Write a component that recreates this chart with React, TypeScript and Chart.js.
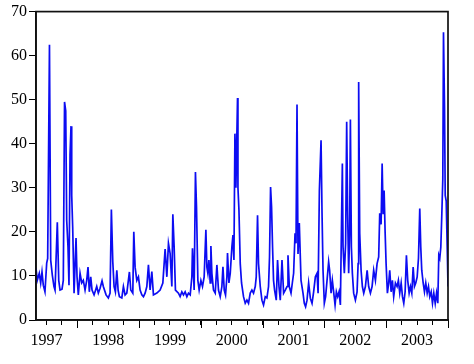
import React, { useEffect, useRef } from "react";
import { Chart, registerables } from "chart.js";

Chart.register(...registerables);

// Decimal-year dates of the observations
const dates = [
  1997.331, 1997.352, 1997.384, 1997.407, 1997.428, 1997.449, 1997.476, 1997.504, 1997.52, 1997.549,
  1997.569, 1997.595, 1997.622, 1997.639, 1997.676, 1997.699, 1997.72, 1997.752, 1997.773, 1997.793,
  1997.812, 1997.828, 1997.849, 1997.865, 1997.882, 1997.898, 1997.909, 1997.925, 1997.947, 1997.968,
  1997.979, 1997.995, 1998.016, 1998.044, 1998.071, 1998.097, 1998.125, 1998.152, 1998.173, 1998.194,
  1998.217, 1998.238, 1998.271, 1998.314, 1998.34, 1998.368, 1998.4, 1998.421, 1998.465, 1998.502,
  1998.53, 1998.551, 1998.574, 1998.595, 1998.616, 1998.639, 1998.66, 1998.681, 1998.72, 1998.746,
  1998.773, 1998.801, 1998.843, 1998.865, 1998.898, 1998.914, 1998.935, 1998.963, 1998.989, 1999.016,
  1999.044, 1999.07, 1999.097, 1999.125, 1999.151, 1999.178, 1999.206, 1999.232, 1999.287, 1999.34,
  1999.384, 1999.421, 1999.449, 1999.475, 1999.502, 1999.53, 1999.546, 1999.567, 1999.588, 1999.637,
  1999.664, 1999.692, 1999.718, 1999.745, 1999.773, 1999.799, 1999.827, 1999.854, 1999.864, 1999.891,
  1999.912, 1999.929, 1999.951, 1999.972, 2000.0, 2000.026, 2000.053, 2000.081, 2000.097, 2000.113,
  2000.13, 2000.151, 2000.162, 2000.178, 2000.204, 2000.232, 2000.259, 2000.285, 2000.313, 2000.34,
  2000.357, 2000.378, 2000.399, 2000.421, 2000.431, 2000.454, 2000.475, 2000.502, 2000.519, 2000.535,
  2000.551, 2000.567, 2000.593, 2000.6, 2000.616, 2000.637, 2000.658, 2000.69, 2000.718, 2000.745,
  2000.771, 2000.799, 2000.826, 2000.852, 2000.88, 2000.896, 2000.917, 2000.933, 2000.961, 2000.988,
  2001.014, 2001.042, 2001.069, 2001.095, 2001.111, 2001.128, 2001.144, 2001.16, 2001.176, 2001.193,
  2001.22, 2001.241, 2001.264, 2001.285, 2001.313, 2001.339, 2001.366, 2001.394, 2001.41, 2001.431,
  2001.459, 2001.48, 2001.501, 2001.524, 2001.54, 2001.556, 2001.572, 2001.593, 2001.621, 2001.653,
  2001.674, 2001.695, 2001.718, 2001.744, 2001.772, 2001.799, 2001.825, 2001.853, 2001.88, 2001.897,
  2001.918, 2001.945, 2001.961, 2001.977, 2001.998, 2002.019, 2002.042, 2002.068, 2002.084, 2002.107,
  2002.128, 2002.149, 2002.172, 2002.193, 2002.214, 2002.236, 2002.258, 2002.29, 2002.301, 2002.322,
  2002.343, 2002.36, 2002.376, 2002.392, 2002.408, 2002.42, 2002.436, 2002.452, 2002.473, 2002.501,
  2002.528, 2002.545, 2002.554, 2002.571, 2002.593, 2002.614, 2002.636, 2002.663, 2002.691, 2002.716,
  2002.744, 2002.771, 2002.797, 2002.825, 2002.852, 2002.878, 2002.895, 2002.917, 2002.934, 2002.95,
  2002.966, 2002.982, 2002.998, 2003.019, 2003.04, 2003.057, 2003.079, 2003.1, 2003.121, 2003.149,
  2003.176, 2003.197, 2003.219, 2003.242, 2003.263, 2003.284, 2003.306, 2003.327, 2003.348, 2003.371,
  2003.392, 2003.414, 2003.436, 2003.457, 2003.478, 2003.501, 2003.522, 2003.543, 2003.559, 2003.575,
  2003.598, 2003.619, 2003.64, 2003.663, 2003.684, 2003.705, 2003.728, 2003.749, 2003.77, 2003.793,
  2003.814, 2003.835, 2003.851, 2003.867, 2003.884, 2003.9, 2003.916, 2003.927, 2003.944, 2003.955,
  2003.971, 2003.987, 2004.0,
];

// Series values
const values = [
  11.8, 9, 10.6, 8.4, 10.9, 7.9, 6.4, 12.9, 14, 62.5,
  13.6, 10.2, 7.6, 6.8, 22.2, 9, 6.8, 7, 9, 49.5,
  47.5, 22.6, 16.6, 7.9, 37.5, 44, 28.3, 21, 6.1, 14.3,
  18.6, 9.8, 5.7, 10.6, 8.4, 9, 6.8, 9, 12, 6.4,
  9.8, 6.8, 5.7, 7.6, 6.1, 7.2, 8.9, 7.6, 5.7, 5,
  6.1, 25.1, 13.2, 7.6, 6.4, 11.3, 6.8, 5.3, 5, 7.6,
  5.7, 6.1, 10.9, 6.8, 6.1, 20, 12, 9, 9.8, 6.8,
  5.7, 5.3, 6.1, 7.6, 12.5, 6.8, 11, 5.7, 6.1, 6.8,
  8.4, 16.1, 9.8, 17.4, 15.1, 7.6, 24, 16.6, 6.8, 6.1,
  5.3, 6.4, 5.7, 6.4, 5.3, 6.1, 5.7, 9.8, 16.3, 6.8,
  33.6, 25.7, 9, 6.8, 9, 7.6, 9.8, 20.5, 12, 10.6,
  13.6, 8.4, 16.8, 10.6, 6.8, 6.1, 12.5, 6.8, 5.3, 7.6,
  12.1, 6.8, 5.7, 9.8, 15.2, 8.4, 10.6, 16.6, 19.3, 13.6,
  42.3, 30, 50.4, 30, 25, 12.8, 8.4, 5.3, 3.8, 4.5,
  3.8, 6.1, 6.8, 6.1, 7.6, 9.8, 23.8, 12.8, 7.6, 4.5,
  3.4, 5.3, 5, 7.6, 14.3, 30.2, 25.7, 16.6, 9, 6.8,
  4.5, 13.6, 7.6, 4.5, 13.6, 6.1, 6.8, 7.6, 14.7, 7.6,
  6.1, 8.4, 10.6, 19.7, 17.4, 48.9, 15, 22, 9, 6.1,
  3.8, 3, 4.5, 8.4, 4.9, 3.8, 6.4, 9.8, 10.6, 6.1,
  29.4, 40.8, 24.2, 11.3, 3.8, 5.3, 9, 13.2, 11.3, 6.1,
  9, 6.4, 3.4, 6.4, 5.3, 6.4, 3.4, 35.5, 16.6, 10.6,
  17.4, 45, 24, 10.6, 20, 45.5, 16.6, 10.6, 6.1, 4.5,
  6.4, 12.8, 54, 19.7, 11.3, 7.6, 6.1, 7.6, 11.3, 7.6,
  6.1, 7.6, 11.3, 9, 12.8, 14.3, 24.2, 21.7, 35.5, 24,
  29.4, 20, 12.8, 6.1, 8.4, 11.3, 6.4, 9, 5.3, 8.4,
  7.6, 9, 6.1, 8.4, 5.3, 3.8, 6.4, 14.7, 9, 6.1,
  7.6, 6.1, 12, 7.6, 8.4, 9.8, 14, 25.3, 16.6, 11.3,
  8.4, 6.4, 8.4, 6.1, 7.6, 5.3, 6.4, 3.8, 6.1, 3.8,
  6.1, 3.8, 14.7, 14, 16.6, 24, 32, 65.3, 48, 28.3,
  27, 16.6, 7.6,
];

const years = [1997, 1998, 1999, 2000, 2001, 2002, 2003];
const yTicks = [0, 10, 20, 30, 40, 50, 60, 70];
const xMin = 1997.331;
const xMax = 2004.0;

const FONT = '"Liberation Serif", "Times New Roman", serif';

export default function App() {
  const ref = useRef<HTMLCanvasElement | null>(null);

  useEffect(() => {
    if (!ref.current) return;

    const quarterTicks: number[] = [];
    for (const yr of years) {
      for (const q of [0, 0.25, 0.5, 0.75]) {
        const v = yr + q;
        if (v >= xMin && v <= xMax) quarterTicks.push(v);
      }
    }
    quarterTicks.push(years[years.length - 1] + 1);

    const framePlugin = {
      id: "frame",
      afterDraw(chart: any) {
        const { ctx, chartArea } = chart;
        const xs = chart.scales.x;
        ctx.save();
        ctx.strokeStyle = "#000";
        ctx.lineWidth = 1;
        // long ticks at year boundaries
        for (const yr of years) {
          const v = yr + 1;
          if (v < xMin || v > xMax) continue;
          const px = Math.round(xs.getPixelForValue(v)) + 0.5;
          ctx.beginPath();
          ctx.moveTo(px, chartArea.bottom);
          ctx.lineTo(px, chartArea.bottom + 8);
          ctx.stroke();
        }
        ctx.lineWidth = 1.7;
        ctx.strokeStyle = "#111";
        ctx.strokeRect(chartArea.left, chartArea.top, chartArea.right - chartArea.left, chartArea.bottom - chartArea.top);
        ctx.restore();
      },
    };

    const chart = new Chart(ref.current, {
      type: "line",
      data: {
        datasets: [
          {
            data: dates.map((d, i) => ({ x: d, y: values[i] })),
            borderColor: "#0c0cf2",
            borderWidth: 1.7,
            pointRadius: 0,
            tension: 0,
            fill: false,
          },
        ],
      },
      options: {
        animation: false,
        responsive: false,
        maintainAspectRatio: false,
        layout: { padding: { left: 0, top: 11, right: 26, bottom: 0 } },
        plugins: { legend: { display: false }, tooltip: { enabled: false } },
        scales: {
          x: {
            type: "linear",
            min: xMin,
            max: xMax,
            afterBuildTicks: (scale: any) => {
              scale.ticks = quarterTicks.map((v) => ({ value: v }));
            },
            afterFit: (scale: any) => {
              scale.height = 44;
            },
            ticks: {
              autoSkip: false,
              maxRotation: 0,
              minRotation: 0,
              padding: 6,
              color: "#000",
              font: { family: FONT, size: 16 },
              callback: (value: any) => {
                const v = Number(value);
                const fl = Math.floor(v + 1e-9);
                if (Math.abs(v - fl - 0.5) < 1e-6) return String(fl);
                return "";
              },
            },
            grid: {
              display: true,
              drawOnChartArea: false,
              drawTicks: true,
              tickLength: 5,
              color: "#000",
              lineWidth: 1,
            },
            border: { display: true, color: "#111", width: 1.7 },
          },
          y: {
            type: "linear",
            min: 0,
            max: 70,
            afterBuildTicks: (scale: any) => {
              scale.ticks = yTicks.map((v) => ({ value: v }));
            },
            afterFit: (scale: any) => {
              scale.width = 36;
            },
            ticks: {
              padding: 2,
              color: "#000",
              font: { family: FONT, size: 16 },
            },
            grid: {
              display: true,
              drawOnChartArea: false,
              drawTicks: true,
              tickLength: 7,
              color: "#000",
              lineWidth: 1,
            },
            border: { display: true, color: "#111", width: 1.7 },
          },
        },
      },
      plugins: [framePlugin],
    });

    return () => chart.destroy();
  }, []);

  return (
    <div style={{ position: "fixed", left: 0, top: 0, width: 474, height: 364, background: "#fff" }}>
      <canvas ref={ref} width={474} height={364} style={{ width: 474, height: 364, display: "block" }} />
    </div>
  );
}
